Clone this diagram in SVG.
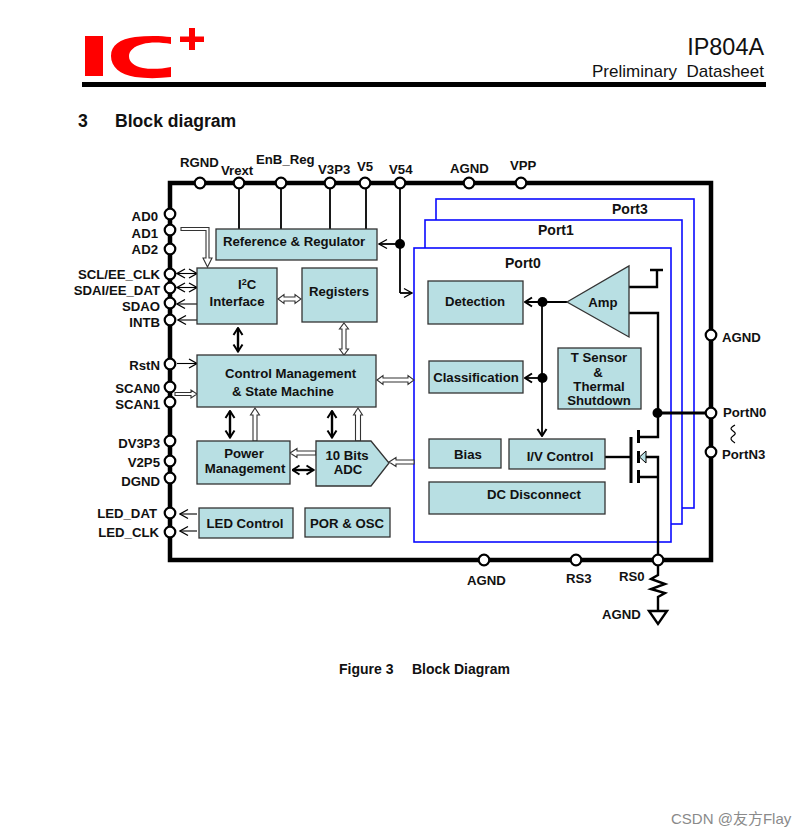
<svg xmlns="http://www.w3.org/2000/svg" width="806" height="836" viewBox="0 0 806 836">
<style>
text{font-family:"Liberation Sans",Arial,sans-serif;font-weight:bold;font-size:13.2px;fill:#111}
.m{text-anchor:middle}.e{text-anchor:end}
.box{fill:#b8dfe3;stroke:#333;stroke-width:1.3}
.pin{fill:#fff;stroke:#000;stroke-width:2.2}
.port{fill:#fff;stroke:#0a0aff;stroke-width:1.6}
.w{fill:none;stroke:#000;stroke-width:1.8}
.t{fill:none;stroke:#000;stroke-width:2.4}
.h{fill:#fff;stroke:#333;stroke-width:1.1}
.thin{fill:none;stroke:#000;stroke-width:1.1;marker-end:url(#oa)}
.dot{fill:#000}
.pl{font-size:14px}
</style>
<defs>
<marker id="oa" markerUnits="userSpaceOnUse" viewBox="-9 -6 10 12" refX="0" refY="0" markerWidth="10" markerHeight="12" orient="auto-start-reverse"><path d="M-8 -4.5L0 0L-8 4.5" fill="none" stroke="#000" stroke-width="1.3"/></marker>
<marker id="ba" markerUnits="userSpaceOnUse" viewBox="-9 -6 10 12" refX="0" refY="0" markerWidth="10" markerHeight="12" orient="auto-start-reverse"><path d="M-7 -4.5L0 0L-7 4.5" fill="none" stroke="#000" stroke-width="2"/></marker>
</defs>
<rect width="806" height="836" fill="#fff"/>
<g id="header">
<rect x="85" y="36" width="18" height="40" fill="#f00"/>
<path d="M171 37V44C160 42 150 42 143 44C134 46 129 51 129 56C129 62 134 66 143 68C151 69.500 161 69 171 67V77C158 78.500 146 78.500 135 77C120 74.500 111 67 111 56C111 45 120 39 135 37C147 35.500 160 35.500 171 37Z" fill="#f00"/>
<path d="M189 28H195V36.500H204V42H195V50H189V42H180V36.500H189Z" fill="#f00"/>
<rect x="82" y="82" width="684" height="5" fill="#000"/>
<text x="764" y="55" text-anchor="end" style="font-weight:normal;font-size:23.4px">IP804A</text>
<text x="764" y="77" text-anchor="end" style="font-weight:normal;font-size:17px" xml:space="preserve">Preliminary  Datasheet</text>
<text x="78" y="127" style="font-size:17.6px">3</text>
<text x="115" y="127" style="font-size:17.6px">Block diagram</text>
</g>
<g id="ports">
<rect id="port3" class="port" x="436" y="199" width="258" height="309"/>
<rect id="port1" class="port" x="425" y="220" width="257" height="304"/>
<rect id="port0" class="port" x="414" y="248" width="257" height="294"/>
<text class="pl" x="612" y="214">Port3</text>
<text class="pl" x="538" y="235">Port1</text>
<text class="pl" x="505" y="268">Port0</text>
</g>
<rect id="frame" x="170" y="183" width="541" height="377" fill="none" stroke="#000" stroke-width="4.500"/>
<g id="connectors">
<path class="w" d="M239 183V229M281 183V229M330 183V229M366 183V229"/>
<path class="w" d="M400 183V293"/>
<path class="w" d="M400 293H412" marker-end="url(#oa)"/>
<path class="w" d="M400 244H379" marker-end="url(#oa)"/>
<circle class="dot" cx="400" cy="244" r="5"/>
<path class="thin" d="M177 273.500H197" marker-start="url(#oa)"/>
<path class="thin" d="M177 287.500H197" marker-start="url(#oa)"/>
<path class="thin" d="M197 304H177"/>
<path class="thin" d="M197 320H178"/>
<path class="thin" d="M177 363.500H197"/>
<path class="thin" d="M197 514H180"/>
<path class="thin" d="M197 531H180"/>
<path class="h" d="M181 227.500H209V258H212L207.500 267L203 258H206V230.500H181Z"/>
<path class="h" d="M278 299L284 294.500V297H295V294.500L301 299L295 303.500V301H284V303.500Z"/>
<path class="h" d="M344 323L348.500 329H346V349H348.500L344 355L339.500 349H342V329H339.500Z"/>
<path class="h" d="M377 380L383 375.500V378H408V375.500L414 380L408 384.500V382H383V384.500Z"/>
<path class="h" d="M175 392.500H191V390L197 394L191 398V395.500H175Z"/>
<path class="h" d="M255 408L259.500 415H257V441H253V415H250.500Z"/>
<path class="h" d="M358 408L362.500 415H360.500V441H355.500V415H353.500Z"/>
<path class="h" d="M290 453L297 448.500V451H316V455H297V457.500Z"/>
<path class="h" d="M389 462L396 457.500V460H414V464H396V466.500Z"/>
<path class="t" d="M238 328V351.500" marker-start="url(#ba)" marker-end="url(#ba)"/>
<path class="t" d="M230 411V437.500" marker-start="url(#ba)" marker-end="url(#ba)"/>
<path class="t" d="M332 411V437.500" marker-start="url(#ba)" marker-end="url(#ba)"/>
<path class="t" d="M292.500 470H313.500" marker-start="url(#ba)" marker-end="url(#ba)"/>
<path class="w" d="M567 302H525" marker-end="url(#ba)"/>
<path class="w" d="M542 302V436" marker-end="url(#ba)"/>
<path class="w" d="M542 378H525" marker-end="url(#ba)"/>
<circle class="dot" cx="542.500" cy="302" r="5"/>
<circle class="dot" cx="542.500" cy="378" r="5"/>
<path class="t" d="M629 287H657V270M650 270H663"/>
<path class="t" d="M629 313H658V437H639"/>
<path d="M658 413H711" fill="none" stroke="#000" stroke-width="3.200"/>
<circle class="dot" cx="657.500" cy="413" r="5"/>
<path class="t" d="M605 457H630"/>
<path d="M631 437V483M638.500 430V443M638.500 451V463M638.500 470V483" fill="none" stroke="#000" stroke-width="3"/>
<path class="t" d="M639 477H658M646 457H658V560"/>
<path d="M646 451V463L639.500 457Z" fill="#b8dfe3" stroke="#000" stroke-width="1"/>
<path d="M735 425C730 428 730 429 733 431C736 433 736 434 733 436C730 438 730 440 735 443" fill="none" stroke="#000" stroke-width="1.200"/>
<path class="t" d="M658 560V575L651 579L665 584L651 589L665 593L658 597V611"/>
<path d="M649 611H667L658 624Z" fill="#fff" stroke="#000" stroke-width="2.400"/>
</g>
<g id="reference-regulator"><rect class="box" x="216" y="229" width="161" height="31"/><text x="223" y="246">Reference &amp; Regulator</text></g>
<g id="i2c"><rect class="box" x="197" y="268" width="80" height="56"/><text x="238" y="289">I<tspan dy="-4" style="font-size:9px">2</tspan><tspan dy="4">C</tspan></text><text class="m" x="237" y="306">Interface</text></g>
<g id="registers"><rect class="box" x="302" y="268" width="75" height="54"/><text class="m" x="339" y="296">Registers</text></g>
<g id="control"><rect class="box" x="197" y="355" width="179" height="52"/><text x="225" y="378">Control Management</text><text x="232" y="396">&amp; State Machine</text></g>
<g id="power"><rect class="box" x="197" y="441" width="93" height="43"/><text class="m" x="244" y="458">Power</text><text class="m" x="245" y="473">Management</text></g>
<g id="adc"><path class="box" d="M316 441H371L389 463L371 486H316Z"/><text class="m" x="347" y="460">10 Bits</text><text class="m" x="348" y="474">ADC</text></g>
<g id="led"><rect class="box" x="199" y="508" width="94" height="30"/><text class="m" x="245" y="528">LED Control</text></g>
<g id="por"><rect class="box" x="305" y="508" width="85" height="29"/><text class="m" x="347" y="528">POR &amp; OSC</text></g>
<g id="detection"><rect class="box" x="428" y="281" width="95" height="43"/><text class="m" x="475" y="306">Detection</text></g>
<g id="classification"><rect class="box" x="429" y="361" width="94" height="32"/><text class="m" x="476" y="382">Classification</text></g>
<g id="tsensor"><rect class="box" x="558" y="348" width="83" height="61"/><text class="m" x="599" y="362">T Sensor</text><text class="m" x="598" y="377">&amp;</text><text class="m" x="599" y="391">Thermal</text><text class="m" x="599" y="405">Shutdown</text></g>
<g id="amp"><path class="box" d="M567 302L629 266V337Z"/><text class="m" x="603" y="307">Amp</text></g>
<g id="bias"><rect class="box" x="429" y="439" width="72" height="29"/><text class="m" x="468" y="459">Bias</text></g>
<g id="iv"><rect class="box" x="509" y="439" width="96" height="30"/><text class="m" x="560" y="461">I/V Control</text></g>
<g id="dc"><rect class="box" x="429" y="482" width="176" height="32"/><text class="m" x="534" y="499">DC Disconnect</text></g>
<g id="pins">
<circle class="pin" cx="200" cy="183" r="5.3"/><circle class="pin" cx="239" cy="183" r="5.3"/><circle class="pin" cx="281" cy="183" r="5.3"/><circle class="pin" cx="330" cy="183" r="5.3"/><circle class="pin" cx="365" cy="183" r="5.3"/><circle class="pin" cx="400" cy="183" r="5.3"/><circle class="pin" cx="469" cy="183" r="5.3"/><circle class="pin" cx="521" cy="183" r="5.3"/>
<circle class="pin" cx="170" cy="214" r="5.3"/><circle class="pin" cx="170" cy="230" r="5.3"/><circle class="pin" cx="170" cy="249" r="5.3"/><circle class="pin" cx="170" cy="274" r="5.3"/><circle class="pin" cx="170" cy="288" r="5.3"/><circle class="pin" cx="170" cy="303" r="5.3"/><circle class="pin" cx="170" cy="320" r="5.3"/><circle class="pin" cx="170" cy="364" r="5.3"/><circle class="pin" cx="170" cy="387" r="5.3"/><circle class="pin" cx="170" cy="402" r="5.3"/><circle class="pin" cx="170" cy="441" r="5.3"/><circle class="pin" cx="170" cy="461" r="5.3"/><circle class="pin" cx="170" cy="478" r="5.3"/><circle class="pin" cx="170" cy="513" r="5.3"/><circle class="pin" cx="170" cy="532" r="5.3"/>
<circle class="pin" cx="711" cy="335" r="5.3"/><circle class="pin" cx="711" cy="413" r="5.3"/><circle class="pin" cx="711" cy="452" r="5.3"/>
<circle class="pin" cx="484" cy="560" r="5.3"/><circle class="pin" cx="576" cy="560" r="5.3"/><circle class="pin" cx="658" cy="560" r="5.3"/>
</g>
<g id="pin-labels">
<text x="180" y="167">RGND</text><text x="221" y="175">Vrext</text><text x="256" y="164">EnB_Reg</text><text x="318" y="174">V3P3</text><text x="357" y="171">V5</text><text x="389" y="174">V54</text><text x="450" y="173">AGND</text><text x="510" y="170">VPP</text>
<text class="e" x="158" y="221">AD0</text><text class="e" x="158" y="238">AD1</text><text class="e" x="158" y="254">AD2</text><text class="e" x="160" y="279">SCL/EE_CLK</text><text class="e" x="160" y="295">SDAI/EE_DAT</text><text class="e" x="160" y="311">SDAO</text><text class="e" x="160" y="327">INTB</text>
<text class="e" x="160" y="370">RstN</text><text class="e" x="160" y="393">SCAN0</text><text class="e" x="160" y="409">SCAN1</text><text class="e" x="160" y="448">DV3P3</text><text class="e" x="160" y="467">V2P5</text><text class="e" x="160" y="486">DGND</text><text class="e" x="157" y="518">LED_DAT</text><text class="e" x="159" y="537">LED_CLK</text>
<text x="722" y="342">AGND</text><text x="723" y="417">PortN0</text><text x="722" y="459">PortN3</text>
<text x="467" y="585">AGND</text><text x="566" y="583">RS3</text><text x="619" y="581">RS0</text><text x="602" y="619">AGND</text>
</g>
<g id="caption"><text x="339" y="674" style="font-size:14px">Figure 3</text><text x="412" y="674" style="font-size:14px">Block Diagram</text></g>
<text x="671" y="824" style="font-weight:normal;font-size:15px;fill:#8a8a8a;font-family:'Liberation Sans','Noto Sans CJK SC',sans-serif">CSDN @友方Flay</text>
</svg>
